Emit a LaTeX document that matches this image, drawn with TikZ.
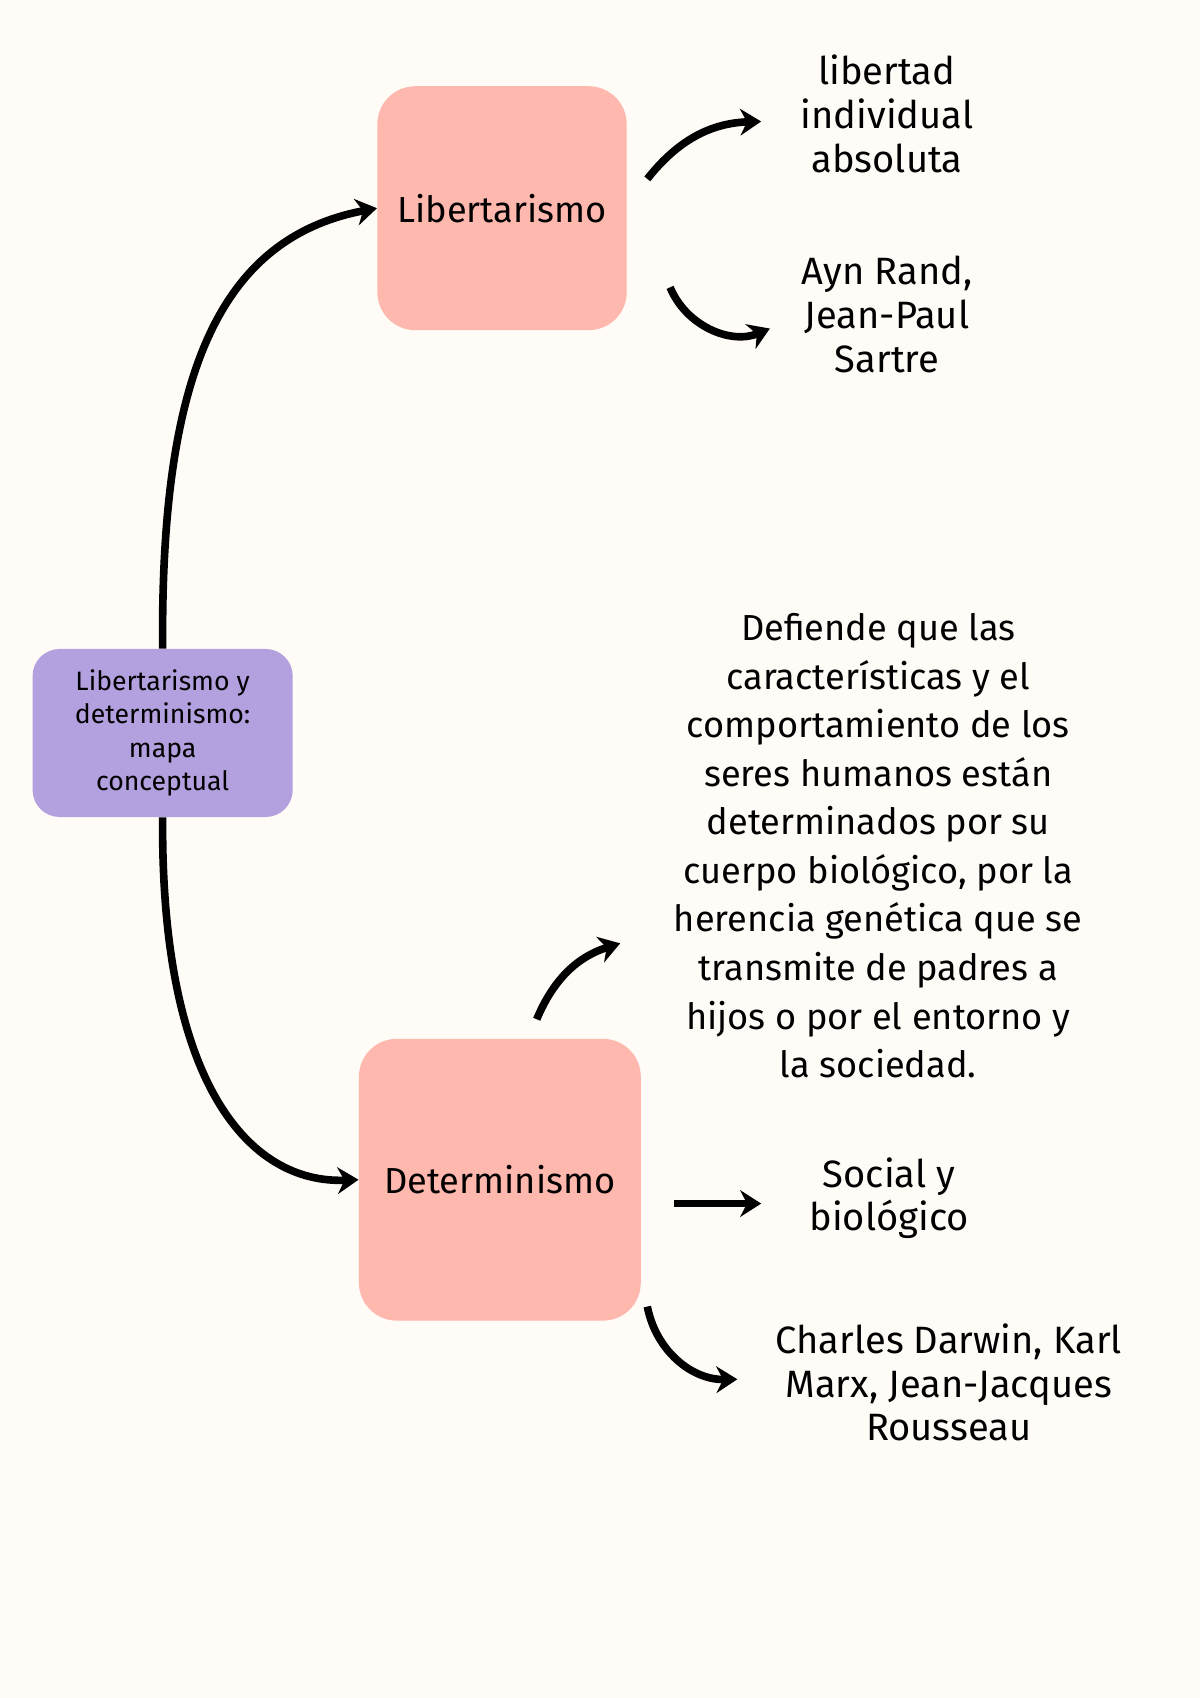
\documentclass[tikz,border=0pt]{standalone}
\usepackage{fontspec}
\setmainfont{Fira Sans}
\usepackage{xcolor}
\usetikzlibrary{arrows.meta}
\definecolor{fondo}{HTML}{FFFBF7}
\definecolor{rosa}{HTML}{FFB8AE}
\definecolor{lila}{HTML}{B3A0DE}
\tikzset{
  caja/.style={fill=rosa, rounded corners=0.7cm, font=\fontsize{19}{22}\selectfont},
  flecha/.style={line width=4pt, -{Stealth[length=11pt,width=14pt]}},
  texto/.style={align=center, font=\fontsize{20}{23}\selectfont}
}
\begin{document}
\begin{tikzpicture}[x=0.02cm, y=-0.02cm]
				\fill[fondo] (0, 0) rectangle (1107, 1566);
				\useasboundingbox (0, 0) rectangle (1107, 1566);
				\node[caja, minimum width=4.6cm, minimum height=4.5cm] (lib) at (463, 192) {Libertarismo};
				\node[caja, minimum width=5.2cm, minimum height=5.2cm] (det) at (461, 1088) {Determinismo};
				\node[fill=lila, rounded corners=0.5cm, minimum width=4.8cm, minimum height=3.1cm, align=center, font=\fontsize{14}{17.5}\selectfont] (mapa) at (150, 676) {Libertarismo y\\determinismo:\\mapa\\conceptual};
				\node[texto] (absoluta) at (818, 105) {libertad\\individual\\absoluta};
				\node[texto] (rand) at (818, 290) {Ayn Rand,\\Jean-Paul\\Sartre};
				\node[texto, font=\fontsize{19}{25.5}\selectfont] (defiende) at (810, 780) {Defiende que las\\características y el\\comportamiento de los\\seres humanos están\\determinados por su\\cuerpo biológico, por la\\herencia genética que se\\transmite de padres a\\hijos o por el entorno y\\la sociedad.};
				\node[texto] (social) at (820, 1105) {Social y\\biológico};
				\node[texto] (darwin) at (875, 1275) {Charles Darwin, Karl\\Marx, Jean-Jacques\\Rousseau};
				\coordinate (a1) at (597, 165);
				\coordinate (a2) at (618, 265);
				\coordinate (a3) at (495, 940);
				\coordinate (a4) at (622, 1110);
				\coordinate (a5) at (597, 1205);
				\draw[flecha] (mapa.north) .. controls (148, 350) and (200, 220) .. (lib.west);
				\draw[flecha] (mapa.south) .. controls (148, 1000) and (230, 1092) .. (det.west);
				\draw[flecha] (a1) to[bend left=25] (702, 112);
				\draw[flecha] (a2) to[bend right=45] (710, 303);
				\draw[flecha] (a3) to[bend left=25] (572, 870);
				\draw[flecha] (a4) -- (702, 1110);
				\draw[flecha] (a5) to[bend right=40] (680, 1272);
			\end{tikzpicture}
\end{document}
